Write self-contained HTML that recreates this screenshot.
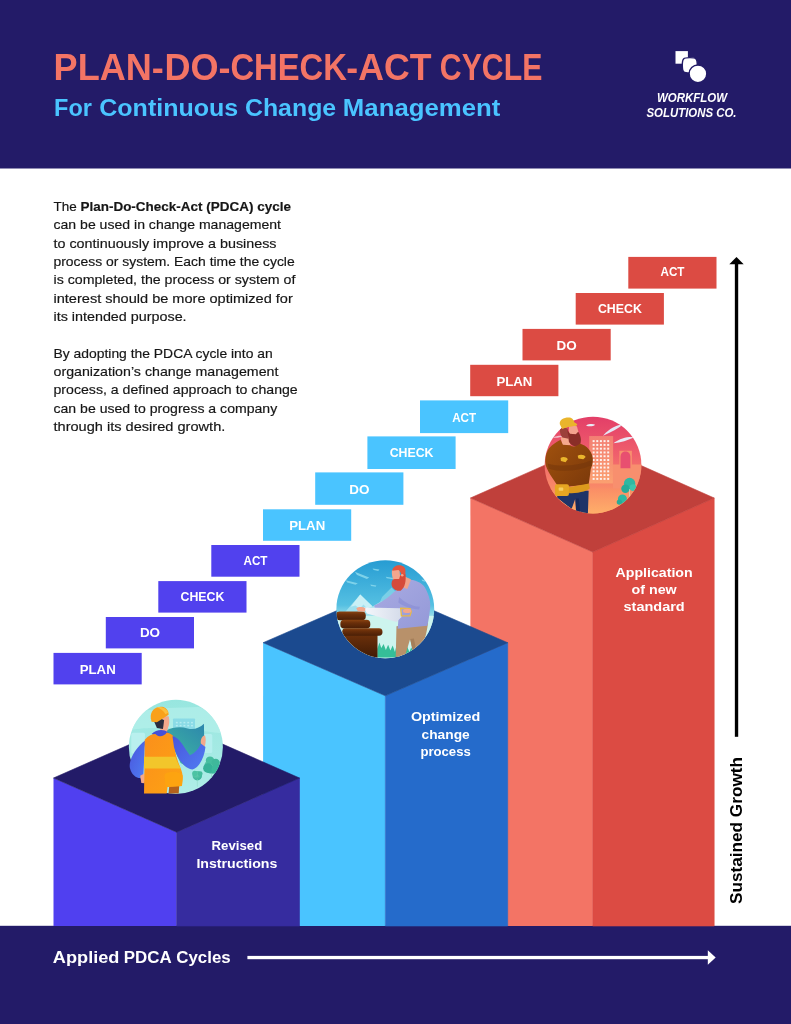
<!DOCTYPE html>
<html lang="en"><head><meta charset="utf-8"><title>Plan-Do-Check-Act Cycle</title>
<style>
html,body{margin:0;padding:0;background:#fff;}
body{width:791px;height:1024px;overflow:hidden;}
svg{display:block;}
text{font-family:"Liberation Sans",sans-serif;}
.b{font-weight:700;}
.st{font-weight:700;font-size:13.4px;fill:#fff;text-anchor:middle;}
.lb{font-weight:700;font-size:13.3px;fill:#fff;text-anchor:middle;}
.p{font-size:13.6px;fill:#161616;stroke:#161616;stroke-width:0.18px;}
</style></head><body>
<svg width="791" height="1024" viewBox="0 0 791 1024">

<rect x="0" y="0" width="791" height="168.5" fill="#231b68"/>
<rect x="0" y="925.8" width="791" height="98.2" fill="#231b68"/>
<text x="53.61" y="79.7" class="b" font-size="37.2" fill="#f37465" textLength="110.25" lengthAdjust="spacingAndGlyphs">PLAN-</text>
<text x="164.4" y="79.7" class="b" font-size="37.2" fill="#f37465" textLength="66.14" lengthAdjust="spacingAndGlyphs">DO-</text>
<text x="230.39" y="79.7" class="b" font-size="37.2" fill="#f37465" textLength="116.5" lengthAdjust="spacingAndGlyphs">CHECK</text>
<text x="346.34" y="79.7" class="b" font-size="37.2" fill="#f37465" textLength="85.17" lengthAdjust="spacingAndGlyphs">-ACT</text>
<text x="439.82" y="79.7" class="b" font-size="37.2" fill="#f37465" textLength="102.57" lengthAdjust="spacingAndGlyphs">CYCLE</text>
<text x="54.04" y="115.9" class="b" font-size="23" fill="#4ac4ff" textLength="37.84" lengthAdjust="spacingAndGlyphs">For</text>
<text x="99.28" y="115.9" class="b" font-size="23" fill="#4ac4ff" textLength="138.93" lengthAdjust="spacingAndGlyphs">Continuous</text>
<text x="244.94" y="115.9" class="b" font-size="23" fill="#4ac4ff" textLength="91.22" lengthAdjust="spacingAndGlyphs">Change</text>
<text x="342.89" y="115.9" class="b" font-size="23" fill="#4ac4ff" textLength="157.53" lengthAdjust="spacingAndGlyphs">Management</text>
<g id="logo">
<rect x="675.5" y="51.1" width="12.4" height="12.6" fill="#fff"/>
<path d="M689.8,57.6 C696.40,57.6 697.3,58.52 697.3,65.3 C697.3,72.08 696.40,73.0 689.8,73.0 C683.20,73.0 682.3,72.08 682.3,65.3 C682.3,58.52 683.20,57.6 689.8,57.6 Z" fill="#fff" stroke="#231b68" stroke-width="1.4"/>
<circle cx="697.95" cy="73.85" r="8.85" fill="#fff" stroke="#231b68" stroke-width="1.4"/>
<text x="692" y="101.7" class="b" font-style="italic" font-size="12.2" fill="#fff" text-anchor="middle" textLength="70" lengthAdjust="spacingAndGlyphs">WORKFLOW</text>
<text x="691.5" y="116.9" class="b" font-style="italic" font-size="12.2" fill="#fff" text-anchor="middle" textLength="90" lengthAdjust="spacingAndGlyphs">SOLUTIONS CO.</text>
</g>
<text x="53.5" y="211.1" class="p" textLength="237.4" lengthAdjust="spacingAndGlyphs">The <tspan class="b">Plan-Do-Check-Act (PDCA) cycle</tspan></text>
<text x="53.5" y="229.4" class="p" textLength="227.5" lengthAdjust="spacingAndGlyphs">can be used in change management</text>
<text x="53.5" y="247.8" class="p" textLength="223.0" lengthAdjust="spacingAndGlyphs">to continuously improve a business</text>
<text x="53.5" y="266.1" class="p" textLength="241.2" lengthAdjust="spacingAndGlyphs">process or system. Each time the cycle</text>
<text x="53.5" y="284.4" class="p" textLength="241.9" lengthAdjust="spacingAndGlyphs">is completed, the process or system of</text>
<text x="53.5" y="302.8" class="p" textLength="239.3" lengthAdjust="spacingAndGlyphs">interest should be more optimized for</text>
<text x="53.5" y="321.1" class="p" textLength="133.1" lengthAdjust="spacingAndGlyphs">its intended purpose.</text>
<text x="53.5" y="357.7" class="p" textLength="219.2" lengthAdjust="spacingAndGlyphs">By adopting the PDCA cycle into an</text>
<text x="53.5" y="376.1" class="p" textLength="224.9" lengthAdjust="spacingAndGlyphs">organization’s change management</text>
<text x="53.5" y="394.4" class="p" textLength="244.2" lengthAdjust="spacingAndGlyphs">process, a defined approach to change</text>
<text x="53.5" y="412.7" class="p" textLength="223.7" lengthAdjust="spacingAndGlyphs">can be used to progress a company</text>
<text x="53.5" y="431.1" class="p" textLength="171.8" lengthAdjust="spacingAndGlyphs">through its desired growth.</text>
<polygon points="470.4,498 592.7,552 592.7,926 470.4,926" fill="#f37465"/>
<polygon points="592.7,552 714.2,498 714.2,926 592.7,926" fill="#dc4b43" stroke="#dc4b43" stroke-width="0.6"/>
<polygon points="470.4,498 592.7,444 714.2,498 592.7,552" fill="#c0403b" stroke="#c0403b" stroke-width="0.6"/>
<g id="ill3" transform="translate(520,400) scale(0.18965)">
<defs>
<clipPath id="c3"><circle cx="385" cy="343" r="255"/></clipPath>
<linearGradient id="g3bg" x1="0" y1="0" x2="0" y2="1"><stop offset="0" stop-color="#e23d68"/><stop offset="0.4" stop-color="#f0606c"/><stop offset="0.72" stop-color="#f98a68"/><stop offset="1" stop-color="#ffab66"/></linearGradient>
<linearGradient id="g3gr" x1="0" y1="0" x2="0" y2="1"><stop offset="0" stop-color="#fa8d66"/><stop offset="1" stop-color="#ffb36a"/></linearGradient>
<linearGradient id="g3sw" x1="0" y1="0" x2="1" y2="1"><stop offset="0" stop-color="#a1520e"/><stop offset="1" stop-color="#7a380a"/></linearGradient>
<linearGradient id="g3b1" x1="0" y1="0" x2="0" y2="1"><stop offset="0" stop-color="#f37f74"/><stop offset="1" stop-color="#fba070"/></linearGradient>
</defs>
<g clip-path="url(#c3)">
<rect x="120" y="80" width="540" height="530" fill="url(#g3bg)"/>
<path d="M348,134 C360,126 385,124 396,130 C388,138 365,142 348,134 Z" fill="#e8ebf6"/>
<path d="M438,188 C470,150 510,132 545,128 C520,150 480,170 438,188 Z" fill="#e4e6f4"/>
<path d="M170,198 C195,188 215,186 232,190 C212,198 190,202 170,198 Z" fill="#f0c0cc"/>
<path d="M492,228 C530,200 570,192 604,196 C570,212 530,224 492,228 Z" fill="#e9eaf6"/>
<rect x="365" y="190" width="126" height="250" fill="url(#g3b1)"/>
<path d="M490,340 L524,340 L524,268 L590,268 L590,340 L650,340 L650,470 L490,470 Z" fill="#f88f6e"/>
<path d="M530,360 L530,300 C530,262 582,262 582,300 L582,360 Z" fill="#e84f70"/>
<rect x="120" y="466" width="540" height="150" fill="url(#g3gr)"/>
<g fill="#fdf1ee"><rect x="383.0" y="211.6" width="10.5" height="10.5"/><rect x="402.2" y="211.6" width="10.5" height="10.5"/><rect x="421.4" y="211.6" width="10.5" height="10.5"/><rect x="440.6" y="211.6" width="10.5" height="10.5"/><rect x="459.8" y="211.6" width="10.5" height="10.5"/><rect x="383.0" y="231.5" width="10.5" height="10.5"/><rect x="402.2" y="231.5" width="10.5" height="10.5"/><rect x="421.4" y="231.5" width="10.5" height="10.5"/><rect x="440.6" y="231.5" width="10.5" height="10.5"/><rect x="459.8" y="231.5" width="10.5" height="10.5"/><rect x="383.0" y="251.4" width="10.5" height="10.5"/><rect x="402.2" y="251.4" width="10.5" height="10.5"/><rect x="421.4" y="251.4" width="10.5" height="10.5"/><rect x="440.6" y="251.4" width="10.5" height="10.5"/><rect x="459.8" y="251.4" width="10.5" height="10.5"/><rect x="383.0" y="271.3" width="10.5" height="10.5"/><rect x="402.2" y="271.3" width="10.5" height="10.5"/><rect x="421.4" y="271.3" width="10.5" height="10.5"/><rect x="440.6" y="271.3" width="10.5" height="10.5"/><rect x="459.8" y="271.3" width="10.5" height="10.5"/><rect x="383.0" y="291.2" width="10.5" height="10.5"/><rect x="402.2" y="291.2" width="10.5" height="10.5"/><rect x="421.4" y="291.2" width="10.5" height="10.5"/><rect x="440.6" y="291.2" width="10.5" height="10.5"/><rect x="459.8" y="291.2" width="10.5" height="10.5"/><rect x="383.0" y="311.1" width="10.5" height="10.5"/><rect x="402.2" y="311.1" width="10.5" height="10.5"/><rect x="421.4" y="311.1" width="10.5" height="10.5"/><rect x="440.6" y="311.1" width="10.5" height="10.5"/><rect x="459.8" y="311.1" width="10.5" height="10.5"/><rect x="383.0" y="331.0" width="10.5" height="10.5"/><rect x="402.2" y="331.0" width="10.5" height="10.5"/><rect x="421.4" y="331.0" width="10.5" height="10.5"/><rect x="440.6" y="331.0" width="10.5" height="10.5"/><rect x="459.8" y="331.0" width="10.5" height="10.5"/><rect x="383.0" y="350.9" width="10.5" height="10.5"/><rect x="402.2" y="350.9" width="10.5" height="10.5"/><rect x="421.4" y="350.9" width="10.5" height="10.5"/><rect x="440.6" y="350.9" width="10.5" height="10.5"/><rect x="459.8" y="350.9" width="10.5" height="10.5"/><rect x="383.0" y="370.8" width="10.5" height="10.5"/><rect x="402.2" y="370.8" width="10.5" height="10.5"/><rect x="421.4" y="370.8" width="10.5" height="10.5"/><rect x="440.6" y="370.8" width="10.5" height="10.5"/><rect x="459.8" y="370.8" width="10.5" height="10.5"/><rect x="383.0" y="390.7" width="10.5" height="10.5"/><rect x="402.2" y="390.7" width="10.5" height="10.5"/><rect x="421.4" y="390.7" width="10.5" height="10.5"/><rect x="440.6" y="390.7" width="10.5" height="10.5"/><rect x="459.8" y="390.7" width="10.5" height="10.5"/><rect x="383.0" y="410.6" width="10.5" height="10.5"/><rect x="402.2" y="410.6" width="10.5" height="10.5"/><rect x="421.4" y="410.6" width="10.5" height="10.5"/><rect x="440.6" y="410.6" width="10.5" height="10.5"/><rect x="459.8" y="410.6" width="10.5" height="10.5"/></g>
<circle cx="578" cy="440" r="30" fill="#2fb8a2"/><circle cx="556" cy="468" r="22" fill="#27ab98"/><circle cx="596" cy="462" r="18" fill="#3cc6ac"/>
<circle cx="540" cy="522" r="24" fill="#2fb8a2"/><circle cx="524" cy="538" r="14" fill="#27ab98"/>
<rect x="576" y="470" width="3" height="40" fill="#bfeee4"/>
<path d="M198,470 L362,478 L358,600 L296,590 L292,520 L272,575 L196,515 Z" fill="#1f3468"/>
<path d="M292,520 L296,590 L318,594 L310,520 Z" fill="#16295c"/>
<path d="M214,196 L264,196 L266,240 L224,238 Z" fill="#f5a98c"/>
<path d="M258,132 L300,138 L308,168 L298,182 L258,182 Z" fill="#f4a38e"/>
<path d="M211,152 C220,145 240,145 252,152 L256,204 L224,198 C212,186 209,166 211,152 Z" fill="#9c403a"/>
<path d="M250,158 L264,178 L294,180 L307,167 C323,190 327,222 313,239 C296,252 270,242 258,222 Z" fill="#8a2e28"/>
<path d="M210,128 C206,104 232,90 262,92 C278,94 284,108 286,118 L302,128 L296,136 L262,140 L222,152 Z" fill="#eab52c"/>
<path d="M214,210 C190,222 160,244 148,262 C134,285 130,316 136,346 C150,390 185,430 205,462 L362,446 C366,420 370,390 373,364 C384,340 388,315 380,290 C372,268 358,250 340,240 L316,230 C300,246 280,250 264,238 L226,236 Z" fill="url(#g3sw)"/>
<path d="M146,336 C210,352 300,350 376,318 L376,344 C310,376 215,382 152,362 Z" fill="#6e320a" opacity="0.45"/>
<path d="M214,306 C226,296 246,300 252,312 L240,328 L216,322 Z" fill="#eab52c"/>
<path d="M304,294 C318,284 340,288 346,300 L334,312 L308,308 Z" fill="#eab52c"/>
<path d="M250,462 L364,440 L368,466 C350,482 300,492 255,492 Z" fill="#dc9a1c"/>
<rect x="184" y="444" width="74" height="62" rx="10" fill="#e6a622"/>
<rect x="204" y="462" width="24" height="16" rx="4" fill="#f5cf63"/>
</g>
<path d="M210,128 C206,104 232,90 262,92 C278,94 284,108 286,118 L302,128 L296,136 L262,140 L222,152 Z" fill="#eab52c"/>
</g>

<polygon points="263.1,642.7 385.3,695.8 385.3,926 263.1,926" fill="#4ac4ff"/>
<polygon points="385.3,695.8 507.7,642.7 507.7,926 385.3,926" fill="#256bcb" stroke="#256bcb" stroke-width="0.6"/>
<polygon points="263.1,642.7 385.3,589.6000000000001 507.7,642.7 385.3,695.8" fill="#1b4a8f" stroke="#1b4a8f" stroke-width="0.6"/>
<g id="ill2" transform="translate(310,540) scale(0.18965)">
<defs>
<clipPath id="c2"><circle cx="397" cy="365" r="258"/></clipPath>
<linearGradient id="g2bg" x1="0" y1="0" x2="0" y2="1"><stop offset="0" stop-color="#259bd2"/><stop offset="0.45" stop-color="#55c0e2"/><stop offset="0.62" stop-color="#bdeeee"/><stop offset="1" stop-color="#d4f6f0"/></linearGradient>
<linearGradient id="g2log" x1="0" y1="0" x2="0" y2="1"><stop offset="0" stop-color="#8a4310"/><stop offset="0.35" stop-color="#6a2f0a"/><stop offset="1" stop-color="#4a1f06"/></linearGradient>
<linearGradient id="g2blk" x1="0" y1="0" x2="0" y2="1"><stop offset="0" stop-color="#6b300b"/><stop offset="1" stop-color="#3a1804"/></linearGradient>
<linearGradient id="g2sw" x1="0" y1="0" x2="1" y2="1"><stop offset="0" stop-color="#a9abe2"/><stop offset="1" stop-color="#9499d8"/></linearGradient>
<linearGradient id="g2saw" x1="0" y1="0" x2="1" y2="0"><stop offset="0" stop-color="#f4f7fb"/><stop offset="1" stop-color="#d5dcea"/></linearGradient>
</defs>
<g clip-path="url(#c2)">
<rect x="130" y="100" width="540" height="540" fill="url(#g2bg)"/>
<g fill="#86d6ec" opacity="0.9">
<path d="M188,212 L252,228 L240,236 L196,224 Z"/><path d="M236,168 L312,198 L300,206 L248,184 Z"/><path d="M330,150 L366,156 L360,163 L336,158 Z"/><path d="M318,234 L350,240 L346,247 L322,242 Z"/><path d="M400,194 L440,200 L436,207 L404,202 Z"/><path d="M588,208 L616,214 L612,221 L592,216 Z"/>
</g>
<path d="M150,420 L265,288 L330,350 L380,320 L470,420 Z" fill="#9fe0ee"/>
<path d="M265,288 L330,350 L300,360 L282,340 L262,362 L240,345 L215,352 Z" fill="#c9f0f6"/>
<path d="M380,300 L430,250 L600,420 L330,420 Z" fill="#8fd8ea" opacity="0.7"/>
<rect x="130" y="400" width="540" height="240" fill="#cdf4ee"/>
<path d="M355,620 L355,575 L366,540 L376,570 L388,548 L400,580 L412,552 L424,582 L436,556 L448,590 L455,560 L470,620 Z" fill="#35be98"/>
<path d="M500,600 L512,560 L524,590 L534,565 L548,600 L548,630 L500,630 Z" fill="#35be98"/>
<path d="M140,500 L356,500 L356,640 L140,640 Z" fill="url(#g2blk)"/>
<rect x="136" y="377" width="158" height="46" rx="20" fill="url(#g2log)"/>
<rect x="160" y="421" width="158" height="46" rx="20" fill="url(#g2log)"/>
<rect x="170" y="465" width="212" height="40" rx="18" fill="url(#g2log)"/>
<path d="M456,455 L622,436 C618,480 605,530 590,560 L545,600 L528,522 L500,615 L452,620 Z" fill="#b8916a"/>
<path d="M528,522 L545,600 L560,585 L548,520 Z" fill="#a57f5a"/>
<path d="M494,198 L528,205 L524,240 L492,236 Z" fill="#f0a189"/>
<path d="M505,208 C545,205 590,222 606,250 C628,290 640,330 632,370 C628,410 622,440 618,452 L462,468 C466,430 468,400 466,370 L345,368 L338,346 C400,320 455,268 505,208 Z" fill="url(#g2sw)"/>
<path d="M495,190 L533,208 L513,258 L494,252 Z" fill="#f1a28a"/>
<path d="M470,300 C500,330 540,350 580,352 L575,366 C535,366 495,350 466,330 Z" fill="#8a8fd6" opacity="0.7"/>
<path d="M284,356 L480,360 L484,405 L456,432 L300,388 Z" fill="url(#g2saw)"/>
<path d="M478,360 L528,362 L534,378 L527,400 L482,400 Z" fill="none" stroke="#e6b84a" stroke-width="7"/>
<ellipse cx="512" cy="374" rx="22" ry="11" fill="#f3a78c"/>
<path d="M244,360 C256,350 280,352 292,360 L290,378 L252,376 Z" fill="#f3a78c"/>
<path d="M432,160 L472,156 L476,210 L440,212 C433,196 430,178 432,160 Z" fill="#f3a68d"/>
<path d="M434,162 C436,128 498,122 503,158 L503,192 L482,186 C480,172 474,162 466,158 Z" fill="#e5563f"/>
<path d="M476,184 L503,180 C508,212 502,250 478,267 C452,272 428,252 430,228 C431,214 438,206 448,206 L470,206 Z" fill="#d64a3a"/>
<circle cx="486" cy="186" r="7" fill="#f3a68d"/>
</g>
</g>

<polygon points="53.5,778 176.6,832.2 176.6,926 53.5,926" fill="#5040f0"/>
<polygon points="176.6,832.2 299.5,778 299.5,926 176.6,926" fill="#362c9f" stroke="#362c9f" stroke-width="0.6"/>
<polygon points="53.5,778 176.6,723.8 299.5,778 176.6,832.2" fill="#231b68" stroke="#231b68" stroke-width="0.6"/>
<g id="ill1" transform="translate(100,690) scale(0.18965)">
<defs>
<clipPath id="c1"><circle cx="400" cy="300" r="248"/></clipPath><clipPath id="c1b"><rect x="0" y="0" width="800" height="546"/></clipPath>
<linearGradient id="g1bg" x1="0" y1="0" x2="0" y2="1"><stop offset="0" stop-color="#97e6df"/><stop offset="1" stop-color="#b0ede8"/></linearGradient>
<linearGradient id="g1map" x1="1" y1="0" x2="0.3" y2="1"><stop offset="0" stop-color="#2d86ad"/><stop offset="1" stop-color="#3db7a1"/></linearGradient>
<linearGradient id="g1arm" x1="0" y1="0" x2="1" y2="1"><stop offset="0" stop-color="#4a55dd"/><stop offset="1" stop-color="#4f7df2"/></linearGradient>
<linearGradient id="g1vest" x1="0" y1="0" x2="1" y2="1"><stop offset="0" stop-color="#fb8f1c"/><stop offset="1" stop-color="#fda312"/></linearGradient>
<radialGradient id="g1tree" cx="0.4" cy="0.3" r="0.8"><stop offset="0" stop-color="#6ed3b0"/><stop offset="1" stop-color="#2fae95"/></radialGradient>
</defs>
<g clip-path="url(#c1)">
<rect x="140" y="40" width="520" height="520" fill="url(#g1bg)"/>
<path d="M160,120 C230,100 300,110 360,95 L520,90 C580,110 620,150 650,200 L650,230 C560,215 250,180 150,215 Z" fill="#b9f1ec" opacity="0.6"/>
<rect x="165" y="225" width="72" height="110" rx="8" fill="#b9f0ee"/>
<rect x="540" y="232" width="52" height="100" rx="8" fill="#b5efee"/>
<rect x="385" y="150" width="116" height="110" rx="4" fill="#8adbe6"/>
<g fill="#b4ecf1"><rect x="400" y="168" width="10" height="8"/><rect x="420" y="168" width="10" height="8"/><rect x="440" y="168" width="10" height="8"/><rect x="460" y="168" width="10" height="8"/><rect x="480" y="168" width="10" height="8"/><rect x="400" y="184" width="10" height="8"/><rect x="420" y="184" width="10" height="8"/><rect x="440" y="184" width="10" height="8"/><rect x="460" y="184" width="10" height="8"/><rect x="480" y="184" width="10" height="8"/></g>
<path d="M348,214 C385,196 425,192 462,203 C495,212 525,200 548,178 L550,290 L505,385 L470,408 L425,385 L385,300 Z" fill="url(#g1map)"/>
<circle cx="590" cy="402" r="40" fill="url(#g1tree)"/><circle cx="580" cy="372" r="22" fill="#45bd9f"/><circle cx="610" cy="384" r="22" fill="#3fb89b"/><circle cx="570" cy="412" r="26" fill="#35b298"/><circle cx="612" cy="418" r="24" fill="#3cb99c"/>
<circle cx="513" cy="452" r="25" fill="url(#g1tree)"/><circle cx="500" cy="440" r="14" fill="#4cc3a3"/><circle cx="528" cy="442" r="13" fill="#45bd9f"/>
<rect x="586" y="440" width="4" height="62" fill="#8fd9c6"/>
<rect x="511" y="470" width="3" height="40" fill="#8fd9c6"/>
</g>
<path d="M240,265 C190,300 148,372 158,412 C168,452 200,472 228,462 L236,300 Z" fill="url(#g1arm)"/>
<g clip-path="url(#c1b)">
<path d="M366,500 L418,500 L414,560 L360,560 Z" fill="#b4621c"/>
<path d="M212,452 L234,440 L236,492 L218,490 Z" fill="#f4a98a"/>
<path d="M335,140 L362,138 C368,160 366,185 358,200 L352,225 L318,225 L318,170 Z" fill="#f3a88b"/>
<path d="M286,168 C300,150 325,150 338,160 L332,205 L300,200 Z" fill="#2a2c3d"/>
<path d="M268,150 C262,105 300,82 335,90 C352,96 362,112 362,130 L300,170 L272,168 Z" fill="#f9a11b"/>
<path d="M300,92 C325,85 352,98 360,120 L345,128 C335,108 320,98 300,92 Z" fill="#fdbf3d"/>
<path d="M272,232 C295,205 340,205 356,222 L392,246 L330,262 Z" fill="#4650d6"/>
<path d="M236,262 C255,240 275,232 292,232 C310,250 335,248 352,224 C372,228 386,238 390,250 C392,300 398,345 412,380 C428,420 438,440 436,470 L432,506 L356,512 L350,560 L232,560 Z" fill="url(#g1vest)"/>
<path d="M232,352 L398,352 C404,372 414,395 426,414 L232,414 Z" fill="#f2c62b"/>
<path d="M340,445 C360,425 420,425 436,452 L432,506 L356,512 L345,512 Z" fill="#fda40f" opacity="0.9"/>
</g>
<path d="M382,244 C420,250 440,300 474,344 C502,336 522,304 536,280 L556,300 C552,352 522,412 488,419 C444,416 404,356 390,300 Z" fill="url(#g1arm)"/>
<path d="M532,282 C528,262 538,242 552,238 C560,250 558,280 552,298 Z" fill="#f4a98a"/>
</g>

<text x="236.9" y="849.9" class="lb" textLength="50.6" lengthAdjust="spacingAndGlyphs">Revised</text>
<text x="236.9" y="867.5" class="lb" textLength="81" lengthAdjust="spacingAndGlyphs">Instructions</text>
<text x="445.6" y="721.3" class="lb" textLength="69.4" lengthAdjust="spacingAndGlyphs">Optimized</text>
<text x="445.6" y="738.7" class="lb" textLength="48.2" lengthAdjust="spacingAndGlyphs">change</text>
<text x="445.6" y="755.8" class="lb" textLength="50.4" lengthAdjust="spacingAndGlyphs">process</text>
<text x="654.1" y="576.7" class="lb" textLength="77.2" lengthAdjust="spacingAndGlyphs">Application</text>
<text x="654.1" y="594" class="lb" textLength="45.2" lengthAdjust="spacingAndGlyphs">of new</text>
<text x="654.1" y="611.3" class="lb" textLength="61.2" lengthAdjust="spacingAndGlyphs">standard</text>
<rect x="53.5" y="652.9" width="88.2" height="31.5" fill="#5141ee"/>
<text x="97.7" y="673.7" class="st" textLength="36" lengthAdjust="spacingAndGlyphs">PLAN</text>
<rect x="105.8" y="617.0" width="88.2" height="31.4" fill="#5141ee"/>
<text x="150.0" y="636.9" class="st" textLength="20.2" lengthAdjust="spacingAndGlyphs">DO</text>
<rect x="158.3" y="581.1" width="88.2" height="31.5" fill="#5141ee"/>
<text x="202.5" y="601.3" class="st" textLength="43.9" lengthAdjust="spacingAndGlyphs">CHECK</text>
<rect x="211.3" y="545.0" width="88.2" height="31.7" fill="#5141ee"/>
<text x="255.5" y="565.0" class="st" textLength="24" lengthAdjust="spacingAndGlyphs">ACT</text>
<rect x="263.0" y="509.3" width="88.2" height="31.5" fill="#4ac4ff"/>
<text x="307.2" y="529.5" class="st" textLength="36" lengthAdjust="spacingAndGlyphs">PLAN</text>
<rect x="315.2" y="472.4" width="88.2" height="32.4" fill="#4ac4ff"/>
<text x="359.4" y="493.5" class="st" textLength="20.2" lengthAdjust="spacingAndGlyphs">DO</text>
<rect x="367.4" y="436.4" width="88.2" height="32.6" fill="#4ac4ff"/>
<text x="411.6" y="457.3" class="st" textLength="43.9" lengthAdjust="spacingAndGlyphs">CHECK</text>
<rect x="420.0" y="400.4" width="88.2" height="32.7" fill="#4ac4ff"/>
<text x="464.2" y="421.7" class="st" textLength="24" lengthAdjust="spacingAndGlyphs">ACT</text>
<rect x="470.2" y="364.8" width="88.2" height="31.4" fill="#dc4b43"/>
<text x="514.4" y="385.5" class="st" textLength="36" lengthAdjust="spacingAndGlyphs">PLAN</text>
<rect x="522.5" y="328.9" width="88.2" height="31.5" fill="#dc4b43"/>
<text x="566.7" y="349.9" class="st" textLength="20.2" lengthAdjust="spacingAndGlyphs">DO</text>
<rect x="575.7" y="293.0" width="88.2" height="31.6" fill="#dc4b43"/>
<text x="619.9" y="312.9" class="st" textLength="43.9" lengthAdjust="spacingAndGlyphs">CHECK</text>
<rect x="628.3" y="256.9" width="88.2" height="31.7" fill="#dc4b43"/>
<text x="672.5" y="276.1" class="st" textLength="24" lengthAdjust="spacingAndGlyphs">ACT</text>
<rect x="734.85" y="262" width="3.35" height="474.8" fill="#000"/>
<polygon points="729.3,264.2 736.5,257 743.7,264.2" fill="#000"/>
<text transform="translate(742.2,904) rotate(-90)" class="b" font-size="16.5" fill="#000" textLength="147" lengthAdjust="spacingAndGlyphs">Sustained Growth</text>
<text x="52.89" y="963" class="b" font-size="17.2" fill="#fff" textLength="66.6" lengthAdjust="spacingAndGlyphs">Applied</text>
<text x="123.7" y="963" class="b" font-size="17.2" fill="#fff" textLength="47.9" lengthAdjust="spacingAndGlyphs">PDCA</text>
<text x="176.32" y="963" class="b" font-size="17.2" fill="#fff" textLength="54.4" lengthAdjust="spacingAndGlyphs">Cycles</text>
<rect x="247.4" y="955.9" width="462" height="3.3" fill="#fff"/>
<polygon points="707.8,950.3 715.7,957.55 707.8,964.8" fill="#fff"/>
</svg></body></html>
